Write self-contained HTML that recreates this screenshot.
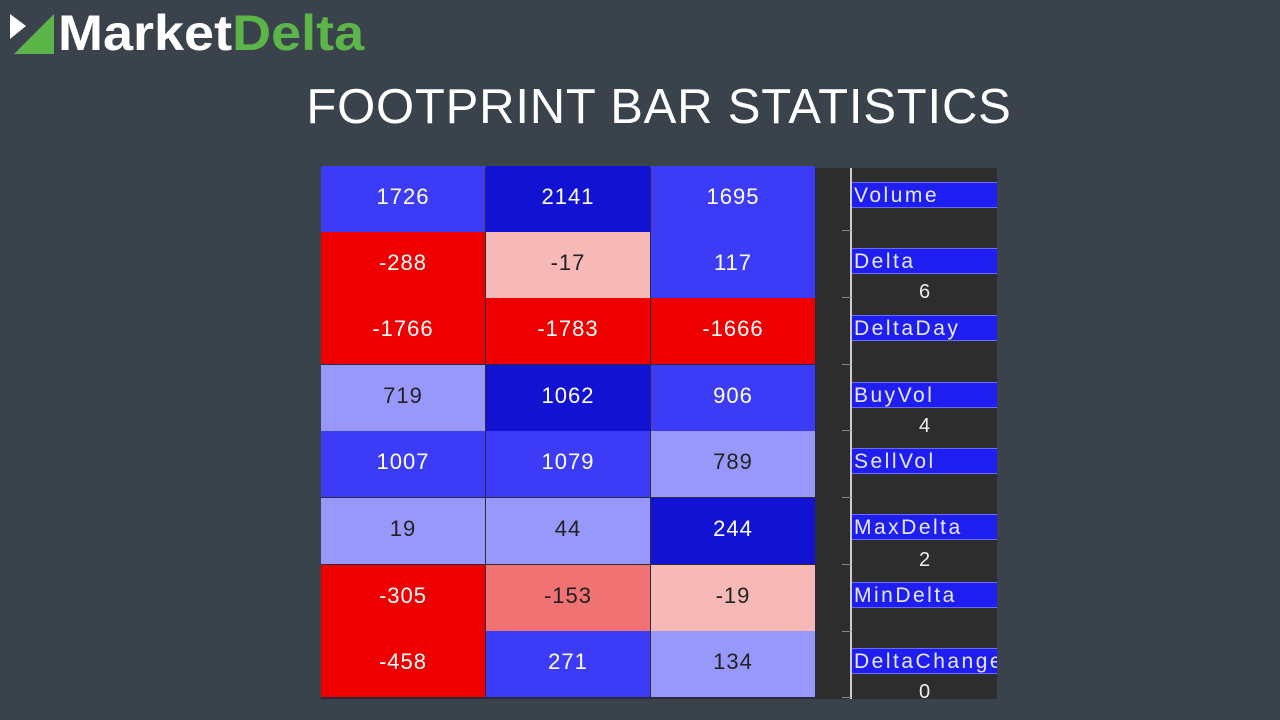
<!DOCTYPE html>
<html><head><style>
body{margin:0;width:1280px;height:720px;background:#3a434b;position:relative;overflow:hidden;font-family:"Liberation Sans",sans-serif}
.c{position:absolute;width:164px;height:66px;display:flex;align-items:center;justify-content:center;font-size:22px;color:#fff;letter-spacing:1px;padding-bottom:4px;box-sizing:border-box}
.L{color:#222}
.lb{position:absolute;left:852px;width:145px;height:26px;background:#1e1ef0;border-top:1px solid #6b6bff;border-bottom:1px solid #6b6bff;color:#e8e8ff;font-size:21px;line-height:26px;letter-spacing:2.5px;padding-left:2px;box-sizing:border-box;white-space:nowrap;overflow:hidden}
.n{position:absolute;left:852px;width:145px;text-align:center;color:#eee;font-size:20px}
.t{position:absolute;left:842px;width:9px;height:1px;background:#888}
</style></head><body>
<svg style="position:absolute;left:10px;top:12px" width="50" height="44"><polygon points="0,2 16,14 0,27" fill="#fff"/><polygon points="44,2 44,42 4,42" fill="#5cb548"/></svg>
<div style="position:absolute;left:58px;top:4px;font-size:50px;font-weight:bold;letter-spacing:0px;transform:scaleX(1.08);transform-origin:left;color:#fff">Market<span style="color:#5cb548">Delta</span></div>
<div style="position:absolute;left:0;width:1318px;top:79px;text-align:center;color:#fff;font-size:49px;letter-spacing:0.8px">FOOTPRINT BAR STATISTICS</div>
<div style="position:absolute;left:321px;top:168px;width:495px;height:531px;background:#2a2a3a"></div>
<div style="position:absolute;left:816px;top:168px;width:181px;height:531px;background:#2d2d2d"></div>
<div style="position:absolute;left:850px;top:168px;width:2px;height:531px;background:#ccc"></div>
<div class="t" style="top:230px"></div><div class="t" style="top:297px"></div><div class="t" style="top:364px"></div><div class="t" style="top:430px"></div><div class="t" style="top:497px"></div><div class="t" style="top:564px"></div><div class="t" style="top:631px"></div><div class="t" style="top:697px"></div>

<div class="c" style="left:321px;top:166px;background:#3c3cf6">1726</div>
<div class="c" style="left:486px;top:166px;background:#1212d2">2141</div>
<div class="c" style="left:651px;top:166px;background:#3c3cf6">1695</div>
<div class="c" style="left:321px;top:232px;background:#ee0000">-288</div>
<div class="c L" style="left:486px;top:232px;background:#f7b8b8">-17</div>
<div class="c" style="left:651px;top:232px;background:#3c3cf6">117</div>
<div class="c" style="left:321px;top:298px;background:#ee0000">-1766</div>
<div class="c" style="left:486px;top:298px;background:#ee0000">-1783</div>
<div class="c" style="left:651px;top:298px;background:#ee0000">-1666</div>
<div class="c L" style="left:321px;top:365px;background:#9898fa">719</div>
<div class="c" style="left:486px;top:365px;background:#1212d2">1062</div>
<div class="c" style="left:651px;top:365px;background:#3c3cf6">906</div>
<div class="c" style="left:321px;top:431px;background:#3c3cf6">1007</div>
<div class="c" style="left:486px;top:431px;background:#3c3cf6">1079</div>
<div class="c L" style="left:651px;top:431px;background:#9898fa">789</div>
<div class="c L" style="left:321px;top:498px;background:#9898fa">19</div>
<div class="c L" style="left:486px;top:498px;background:#9898fa">44</div>
<div class="c" style="left:651px;top:498px;background:#1212d2">244</div>
<div class="c" style="left:321px;top:565px;background:#ee0000">-305</div>
<div class="c L" style="left:486px;top:565px;background:#f07272">-153</div>
<div class="c L" style="left:651px;top:565px;background:#f7b8b8">-19</div>
<div class="c" style="left:321px;top:631px;background:#ee0000">-458</div>
<div class="c" style="left:486px;top:631px;background:#3c3cf6">271</div>
<div class="c L" style="left:651px;top:631px;background:#9898fa">134</div>

<div class="lb" style="top:182px">Volume</div>
<div class="lb" style="top:248px">Delta</div>
<div class="n" style="top:281px">6</div>
<div class="lb" style="top:315px">DeltaDay</div>
<div class="lb" style="top:382px">BuyVol</div>
<div class="n" style="top:415px">4</div>
<div class="lb" style="top:448px">SellVol</div>
<div class="lb" style="top:514px">MaxDelta</div>
<div class="n" style="top:549px">2</div>
<div class="lb" style="top:582px">MinDelta</div>
<div class="lb" style="top:648px">DeltaChange</div>
<div class="n" style="top:681px">0</div>
</body></html>
